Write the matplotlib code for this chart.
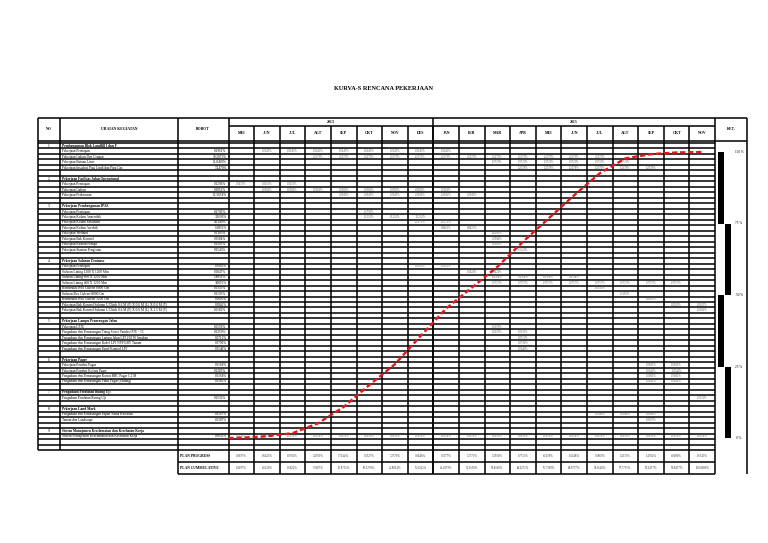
import matplotlib.pyplot as plt

plt.rcParams['font.family'] = ['Liberation Serif', 'DejaVu Serif']

# months of the schedule (May 2013 - Nov 2015 as printed)
months = ['MEI', 'JUN', 'JUL', 'AGT', 'SEP', 'OKT', 'NOV', 'DES', 'JAN', 'FEB',
          'MAR', 'APR', 'MEI', 'JUN', 'JUL', 'AGT', 'SEP', 'OKT', 'NOV']
years = ['2013', '2015']
year_span = [(0, 8), (8, 19)]

# table rows: number, description, weight, header flag
row_no = ['1', '', '', '', '', '',
          '2', '', '', '', '',
          '3', '', '', '', '', '', '', '', '', '',
          '4', '', '', '', '', '', '', '', '', '', '',
          '5', '', '', '', '', '', '',
          '6', '', '', '', '', '',
          '7', '', '',
          '8', '', '', '',
          '9', '', '', '']
row_labels = [
    'Pembangunan Blok Landfill I dan F', 'Pekerjaan Persiapan', 'Pekerjaan Galian Dan Urugan',
    'Pekerjaan Batuan Liner', 'Pekerjaan Instalasi Pipa Lindi dan Pipa Gas', '',
    'Pekerjaan Fasilitas Jalan Operasional', 'Pekerjaan Persiapan', 'Pekerjaan Galian',
    'Pekerjaan Perkerasan', '',
    'Pekerjaan Pembangunan IPAS', 'Pekerjaan Persiapan', 'Pekerjaan Kolam Anaerobik',
    'Pekerjaan Kolam Fakultatif', 'Pekerjaan Kolam Aerobik', 'Pekerjaan Wetland',
    'Pekerjaan Bak Kontrol', 'Pekerjaan Rumah Pompa', 'Pekerjaan Stasiun Pengisian', '',
    'Pekerjaan Saluran Drainase', 'Pekerjaan Persiapan', 'Saluran Lining 1200 X 1200 Mm',
    'Saluran Lining 800 X 1200 Mm', 'Saluran Lining 400 X 1200 Mm',
    'Konstruksi Box Culvert 6000 Cm', 'Saluran Box Culvert 8000 Cm',
    'Konstruksi Box Culvert 1200 Cm',
    'Pekerjaan Bak Kontrol Saluran U.Ditch 0.6 M (P) X 0.6 M (L) X 0.6 M (T)',
    'Pekerjaan Bak Kontrol Saluran U.Ditch 0.6 M (P) X 0.6 M (L) X 1.5 M (T)', '',
    'Pekerjaan Lampu Penerangan Jalan', 'Pekerjaan LPJU',
    'Pengadaan dan Pemasangan Tiang Street Vandest PJU - 15',
    'Pengadaan dan Pemasangan Lampu Jalan LPJ 250 W lengkap',
    'Pengadaan dan Pemasangan Kabel LPJ NYFGBY Tanam',
    'Pengadaan dan Pemasangan Panel Kontrol LPJ', '',
    'Pekerjaan Pagar', 'Pekerjaan Pondasi Pagar', 'Pekerjaan Pondasi Kolom Pagar',
    'Pengadaan dan Pemasangan Kawat BRC Pagar 1.2 M',
    'Pengadaan dan Pemasangan Pintu Pagar (Sliding)', '',
    'Pengadaan Peralatan Ruang Uji', 'Pengadaan Peralatan Ruang Uji', '',
    'Pekerjaan Land Mark', 'Pengadaan dan Pemasangan Papan Nama Kawasan',
    'Taman dan Landscape', '',
    'Sistem Manajemen Keselamatan dan Kesehatan Kerja',
    'Sistem Manajemen Keselamatan dan Kesehatan Kerja', '', '']
row_bobot = ['', '0.1961%', '30.2071%', '11.8400%', '7.2470%', '',
             '', '0.1296%', '0.3051%', '12.5654%', '',
             '', '0.1791%', '3.3696%', '4.5149%', '1.6851%', '0.2183%', '0.0584%',
             '0.1503%', '0.1543%', '',
             '', '0.0026%', '0.0847%', '1.8831%', '3.0055%', '0.0335%', '0.1195%',
             '0.0605%', '0.0045%', '0.0182%', '',
             '', '0.0159%', '0.1259%', '0.0711%', '0.0790%', '0.0140%', '',
             '', '0.0164%', '0.0283%', '0.0164%', '0.0565%', '',
             '', '0.1532%', '',
             '', '0.1167%', '0.0307%', '',
             '', '0.3030%', '', '']

# monthly weights per row: (row, first month, last month, value)
cells = [(1, 1, 8, '0.0245%'), (2, 3, 14, '2.5173%'), (3, 10, 15, '1.9733%'),
         (4, 11, 16, '1.2078%'), (7, 0, 2, '0.0432%'), (8, 1, 8, '0.0381%'),
         (9, 4, 9, '2.0942%'), (12, 5, 5, '0.1791%'), (13, 5, 7, '1.1232%'),
         (14, 7, 8, '2.2575%'), (15, 8, 9, '0.8425%'), (16, 10, 10, '0.2183%'),
         (17, 10, 10, '0.0584%'), (18, 10, 10, '0.1503%'), (19, 11, 11, '0.1543%'),
         (22, 7, 8, '0.0013%'), (23, 9, 10, '0.0424%'), (24, 10, 13, '0.4708%'),
         (25, 10, 17, '0.3757%'), (26, 14, 14, '0.0335%'), (27, 15, 15, '0.1195%'),
         (28, 16, 16, '0.0605%'), (29, 17, 18, '0.0023%'), (30, 18, 18, '0.0182%'),
         (33, 10, 10, '0.0159%'), (34, 10, 11, '0.0630%'), (35, 11, 11, '0.0711%'),
         (36, 11, 11, '0.0790%'), (37, 11, 11, '0.0140%'), (40, 16, 17, '0.0082%'),
         (41, 16, 17, '0.0142%'), (42, 16, 17, '0.0082%'), (43, 16, 17, '0.0283%'),
         (46, 18, 18, '0.1532%'), (49, 14, 16, '0.0389%'), (50, 16, 16, '0.0307%'),
         (53, 0, 18, '0.0159%')]

plan_progress = [0.0697, 0.5423, 1.0702, 3.4785, 5.7144, 7.6527, 7.2776, 9.8448, 9.6377,
                 7.2771, 7.2910, 8.7711, 8.1238, 8.1248, 7.6863, 5.2135, 1.4702, 0.6000, 0.1543]
plan_cumulative = [0.0697, 0.6120, 1.6822, 5.1607, 10.8751, 18.5278, 25.8054, 35.6502,
                   45.2879, 52.5650, 59.8560, 68.6271, 76.7509, 84.8757, 92.5620,
                   97.7755, 99.2457, 99.8457, 100.0000]
ket_levels = [0, 25, 50, 75, 100]

# --- page layout in pixels ---
W, H = 768, 543
x_no, x_ur, x_bb, x_m0, x_ket, x_end = 38, 60, 178, 228.5, 715, 747
mw = (x_ket - x_m0) / len(months)
y_top, y_yr, y_hd = 118, 126, 141
body_top, body_bot = 143, 450
rh = (body_bot - body_top) / len(row_labels)
y_p1, y_p2 = 462, 474

fig = plt.figure(figsize=(W / 100, H / 100), dpi=100)
ax = fig.add_axes([0, 0, 1, 1])
ax.set_xlim(0, W)
ax.set_ylim(H, 0)
ax.axis('off')

lc = 'black'
lw = 1.1
ax.text(384, 88, 'KURVA-S RENCANA PEKERJAAN', ha='center', va='center',
        fontsize=4.5, fontweight='bold')

# horizontal lines
ax.hlines([y_top, y_hd], x_no, x_end, color=lc, lw=lw)
ax.hlines(y_yr, x_m0, x_ket, color=lc, lw=lw)
for i in range(len(row_labels) + 1):
    ax.hlines(body_top + i * rh, x_no, x_ket, color=lc, lw=lw)
ax.hlines([y_p1, y_p2], x_bb, x_ket, color=lc, lw=lw)

# vertical lines
ax.vlines([x_no, x_ur], y_top, body_bot, color=lc, lw=lw)
ax.vlines(x_bb, y_top, y_p2, color=lc, lw=lw)
ax.vlines([x_m0, x_m0 + 8 * mw, x_ket, x_end], y_top, y_p2, color=lc, lw=lw)
for j in range(1, len(months)):
    ax.vlines(x_m0 + j * mw, y_yr, y_p2, color=lc, lw=lw)

# header text
hfs = 2.8
ax.text((x_no + x_ur) / 2, (y_top + y_hd) / 2, 'NO', ha='center', va='center', fontsize=hfs, fontweight='bold')
ax.text((x_ur + x_bb) / 2, (y_top + y_hd) / 2, 'URAIAN KEGIATAN', ha='center', va='center', fontsize=hfs, fontweight='bold')
ax.text((x_bb + x_m0) / 2, (y_top + y_hd) / 2, 'BOBOT', ha='center', va='center', fontsize=hfs, fontweight='bold')
ax.text((x_ket + x_end) / 2, (y_top + y_hd) / 2, 'KET.', ha='center', va='center', fontsize=hfs, fontweight='bold')
for yr, (a, b) in zip(years, year_span):
    ax.text(x_m0 + (a + b) / 2 * mw, (y_top + y_yr) / 2, yr, ha='center', va='center',
            fontsize=hfs, fontweight='bold')
for j, m in enumerate(months):
    ax.text(x_m0 + (j + 0.5) * mw, (y_yr + y_hd) / 2, m, ha='center', va='center',
            fontsize=hfs, fontweight='bold')

# body rows
for i, (no, lab, bb) in enumerate(zip(row_no, row_labels, row_bobot)):
    yc = body_top + (i + 0.5) * rh
    head = no != ''
    if head:
        ax.text((x_no + x_ur) / 2, yc, no, ha='center', va='center', fontsize=2.6)
    ax.text(x_ur + 1.5, yc, lab, ha='left', va='center', fontsize=2.5,
            fontweight='bold' if head else 'normal')
    ax.text(x_m0 - 2, yc, bb, ha='right', va='center', fontsize=2.4)

for r, a, b, v in cells:
    yc = body_top + (r + 0.5) * rh
    for j in range(a, b + 1):
        ax.text(x_m0 + (j + 0.5) * mw, yc, v, ha='center', va='center',
                fontsize=2.1, color='#555555')

# plan rows
ax.text(x_bb + 2, (body_bot + y_p1) / 2, 'PLAN PROGRESS', ha='left', va='center',
        fontsize=2.6, fontweight='bold')
ax.text(x_bb + 2, (y_p1 + y_p2) / 2, 'PLAN CUMMULATIVE', ha='left', va='center',
        fontsize=2.6, fontweight='bold')
for j in range(len(months)):
    xc = x_m0 + (j + 0.5) * mw
    ax.text(xc, (body_bot + y_p1) / 2, f'{plan_progress[j]:.4f}%', ha='center',
            va='center', fontsize=2.2, color='#333333')
    ax.text(xc, (y_p1 + y_p2) / 2, f'{plan_cumulative[j]:.4f}%', ha='center',
            va='center', fontsize=2.2, color='#333333')

# S-curve overlay: 0 % at y=438 px, 100 % at y=152 px
y0, y100 = 438, 152
ax_s = fig.add_axes([x_m0 / W, 1 - y0 / H, (x_ket - x_m0) / W, (y0 - y100) / H])
ax_s.set_xlim(-0.5, len(months) - 0.5)
ax_s.set_ylim(0, 100)
ax_s.axis('off')
ax_s.plot([-0.5] + list(range(len(months))), [0] + plan_cumulative,
          color='#e8161b', lw=1.7, ls=(0, (2.2, 1.2)), clip_on=False)

# KET scale bars
ax_k = fig.add_axes([x_ket / W, 1 - y0 / H, (x_end - x_ket) / W, (y0 - y100) / H])
ax_k.set_xlim(0, x_end - x_ket)
ax_k.set_ylim(0, 100)
ax_k.axis('off')
for k in range(len(ket_levels) - 1):
    xb = 12.5 if k % 2 == 0 else 6.3
    ax_k.bar(xb, ket_levels[k + 1] - ket_levels[k], bottom=ket_levels[k], width=6,
             color='black')
for lv in ket_levels:
    ax_k.text(24, lv, f'{lv} %', ha='center', va='center', fontsize=2.4)

plt.savefig('out.png', dpi=100)
